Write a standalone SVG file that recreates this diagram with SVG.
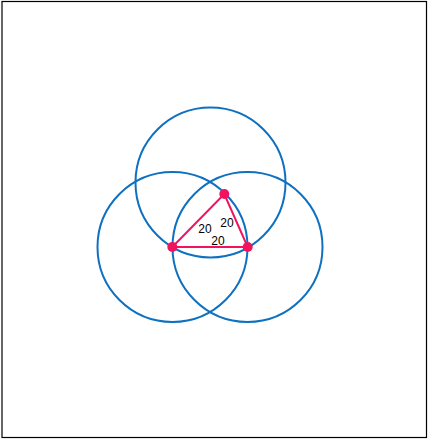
<svg xmlns="http://www.w3.org/2000/svg" width="431" height="441" viewBox="0 0 431 441">
<style>
.c{fill:none;stroke:#0e70c0;stroke-width:2}
.t{fill:none;stroke:#f0145f;stroke-width:2}
.d{fill:#f0145f}
.l{font-family:"Liberation Sans",Arial,sans-serif;font-size:12px;fill:#000;text-anchor:middle}
</style>
<rect x="2" y="1.5" width="424.5" height="436" fill="#fff" stroke="#000" stroke-width="1.2"/>
<g id="circles">
<circle id="circle-left" class="c" cx="172.5" cy="247" r="75"/>
<circle id="circle-right" class="c" cx="247.5" cy="247" r="75"/>
<circle id="circle-top" class="c" cx="210.5" cy="182.5" r="75"/>
</g>
<g id="connectors">
<polygon class="t" points="172.3,247 247.7,247 224.3,194"/>
</g>
<g id="point-left"><circle class="d" cx="172.3" cy="247" r="5"/></g>
<g id="point-right"><circle class="d" cx="247.7" cy="247" r="5"/></g>
<g id="point-top"><circle class="d" cx="224.3" cy="194" r="5"/></g>
<g id="labels">
<text class="l" x="205" y="233">20</text>
<text class="l" x="227" y="227">20</text>
<text class="l" x="218" y="245">20</text>
</g>
</svg>
